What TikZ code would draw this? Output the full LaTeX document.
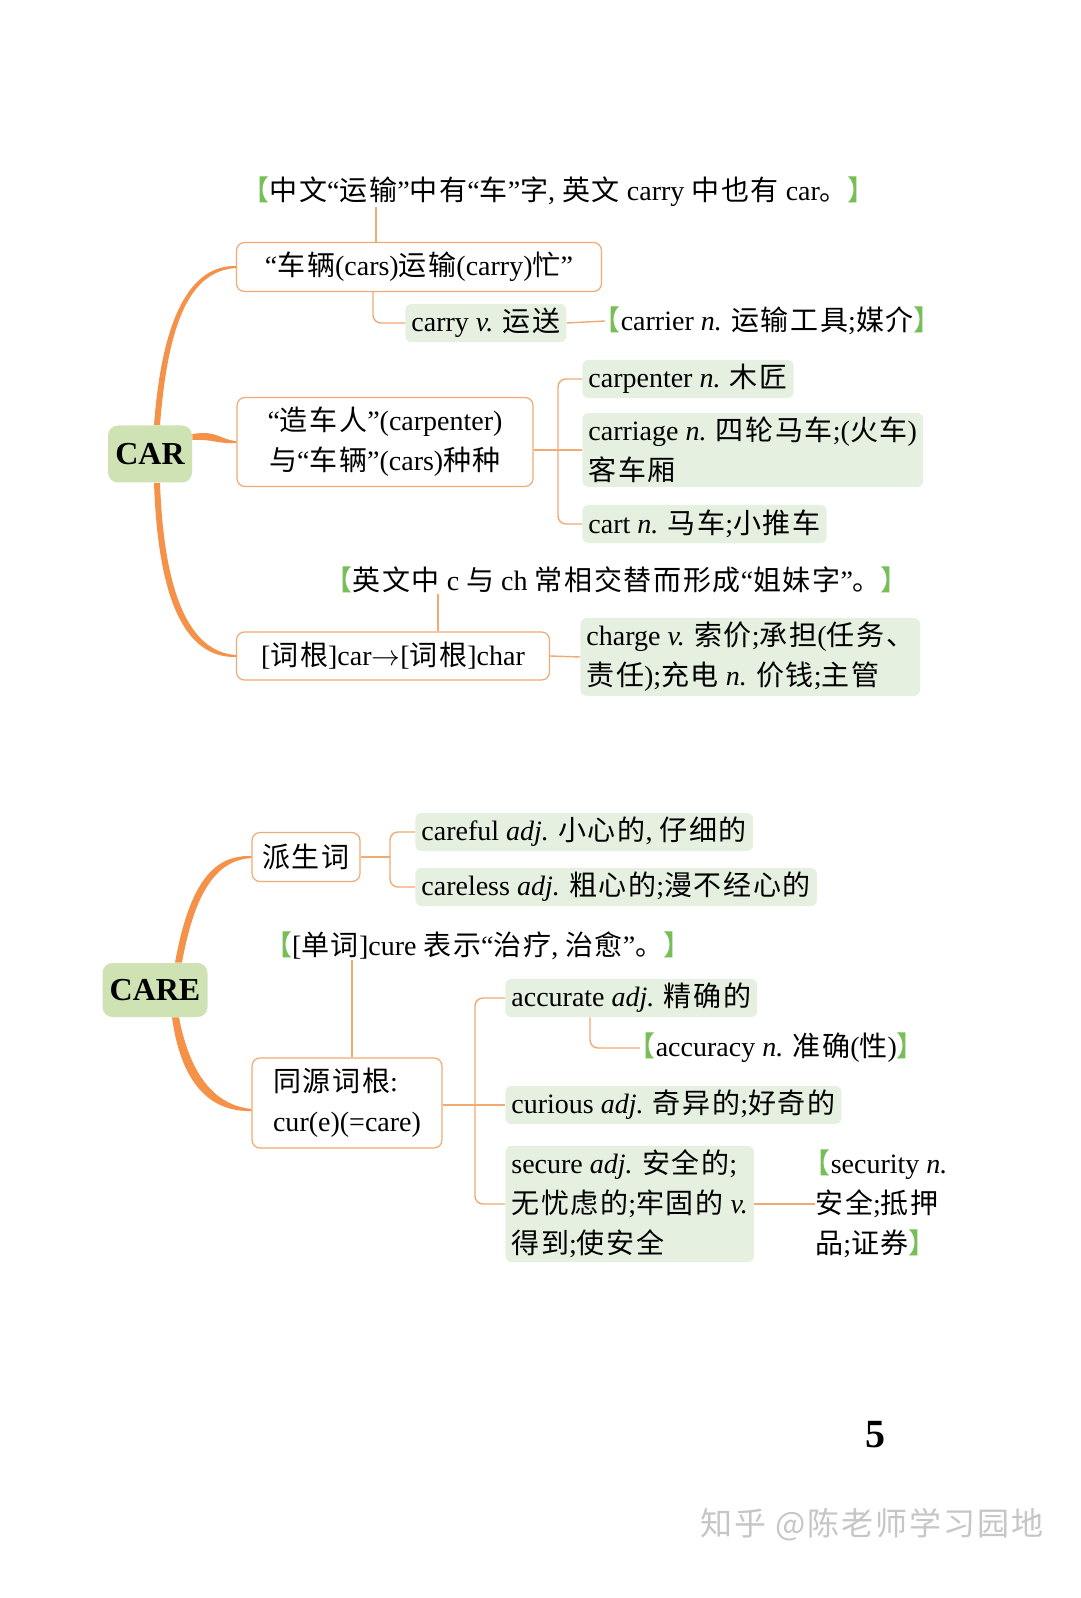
\documentclass[tikz,border=0pt]{standalone}
\usepackage{fontspec}
\setmainfont{Liberation Serif}
\newfontfamily\cjk[LetterSpace=6]{Noto Sans CJK SC}
\usetikzlibrary{positioning}

\definecolor{stemorange}{HTML}{F5924A}
\definecolor{twigorange}{HTML}{F2AA74}
\definecolor{rootgreen}{HTML}{CEE2B3}
\definecolor{wordgreen}{HTML}{E5F0E0}
\definecolor{brackgreen}{HTML}{76BE55}

\newcommand{\zh}[1]{{\cjk #1}}
\newcommand{\lbr}{{\cjk\color{brackgreen}\kern-0.45em【}}
\newcommand{\rbr}{{\cjk\color{brackgreen}】}}

\tikzset{
    root/.style={fill=rootgreen, rounded corners=5pt, font=\fontsize{16}{18}\selectfont\bfseries, inner sep=0pt},
    idea/.style={draw=twigorange, line width=0.6pt, rounded corners=4pt, fill=white, inner xsep=4pt, inner ysep=2pt},
    word/.style={fill=wordgreen, rounded corners=3pt, anchor=west, align=left, inner xsep=3pt, inner ysep=2pt, minimum height=19pt},
    note/.style={align=left, inner sep=0pt},
    stem/.style={fill=stemorange},
    twig/.style={draw=twigorange, line width=0.7pt, rounded corners=4pt}
}

\begin{document}
\begin{tikzpicture}[x=0.5pt, y=-0.5pt, font=\fontsize{14}{20}\selectfont]
    \fill[white] (0,0) rectangle (1080,1598);
    \useasboundingbox (0,0) rectangle (1080,1598);

    \node[root, minimum width=42pt, minimum height=28.5pt] (car) at (150,454) {CAR};
    \node[note] (carnote) at (565,192) {\lbr\zh{中文}“\zh{运输}”\zh{中有}“\zh{车}”\zh{字}, \zh{英文} carry \zh{中也有} car\zh{。}\rbr};
    \node[idea, minimum width=182.5pt, minimum height=24.5pt] (busy) at (419,267) {“\zh{车辆}(cars)\zh{运输}(carry)\zh{忙}”};
    \node[word] (carry) at (405,323) {carry \textit{v.} \zh{运送}};
    \node[note, anchor=west] (carrier) at (605,321) {\lbr carrier \textit{n.} \zh{运输工具};\zh{媒介}\rbr};
    \node[idea, align=center, minimum width=148pt, minimum height=44.5pt] (maker) at (385,442) {“\zh{造车人}”(carpenter)\\\zh{与}“\zh{车辆}”(cars)\zh{种种}};
    \node[word] (carpenter) at (582,379) {carpenter \textit{n.} \zh{木匠}};
    \node[word] (carriage) at (582,450) {carriage \textit{n.} \zh{四轮马车};(\zh{火车})\\\zh{客车厢}};
    \node[word] (cart) at (582,524) {cart \textit{n.} \zh{马车};\zh{小推车}};
    \node[note] (chnote) at (623,580) {\lbr\zh{英文中} c \zh{与} ch \zh{常相交替而形成}“\zh{姐妹字}”\zh{。}\rbr};
    \node[idea, minimum width=156.5pt, minimum height=24pt] (chroot) at (393,656) {[\zh{词根}]car$\rightarrow$[\zh{词根}]char};
    \node[word] (charge) at (580,657) {charge \textit{v.} \zh{索价};\zh{承担}(\zh{任务、}\\\zh{责任});\zh{充电} \textit{n.} \zh{价钱};\zh{主管}};

    \fill[stem] ([xshift=2pt]car.north) .. controls (162,318) and (190,265) .. ([yshift=0.5pt]busy.west)
        -- ([yshift=-0.5pt]busy.west) .. controls (190,271) and (168,322) .. ([xshift=5pt]car.north) -- cycle;
    \fill[stem] ([yshift=10pt]car.east) .. controls (218,430) and (220,440) .. ([yshift=0.5pt]maker.west)
        -- ([yshift=-0.5pt]maker.west) .. controls (216,444) and (214,439) .. ([yshift=7pt]car.east) -- cycle;
    \fill[stem] ([xshift=2pt]car.south) .. controls (158,600) and (185,658) .. ([yshift=-0.5pt]chroot.west)
        -- ([yshift=0.5pt]chroot.west) .. controls (190,652) and (164,595) .. ([xshift=5pt]car.south) -- cycle;

    \draw[twig] (carnote.south -| 376,0) -- (busy.north -| 376,0);
    \draw[twig] (busy.south -| 373,0) |- (carry.west);
    \draw[twig] (carry.east) -- (carrier.west);
    \coordinate (carfork) at (558,450);
    \draw[twig] (maker.east |- carriage.west) -- (carriage.west);
    \draw[twig] (carpenter.west) -| (carfork) |- (cart.west);
    \draw[twig] (chnote.south -| 438,0) -- (chroot.north -| 438,0);
    \draw[twig] (chroot.east) -- (charge.west);

    \node[root, minimum width=52.5pt, minimum height=27pt] (care) at (155,990) {CARE};
    \node[idea, minimum width=54pt, minimum height=24.5pt] (derived) at (306,857) {\zh{派生词}};
    \node[word] (careful) at (415,832) {careful \textit{adj.} \zh{小心的}, \zh{仔细的}};
    \node[word] (careless) at (415,887) {careless \textit{adj.} \zh{粗心的};\zh{漫不经心的}};
    \node[note] (curenote) at (484,946) {\lbr[\zh{单词}]cure \zh{表示}“\zh{治疗}, \zh{治愈}”\zh{。}\rbr};
    \node[idea, align=left, minimum width=95pt, minimum height=45pt] (cognate) at (347,1103) {\zh{同源词根}:\\cur(e)(=care)};
    \node[word] (accurate) at (505,998) {accurate \textit{adj.} \zh{精确的}};
    \node[note, anchor=west] (accuracy) at (640,1048) {\lbr accuracy \textit{n.} \zh{准确}(\zh{性})\rbr};
    \node[word] (curious) at (505,1105) {curious \textit{adj.} \zh{奇异的};\zh{好奇的}};
    \node[word] (secure) at (505,1204) {secure \textit{adj.} \zh{安全的};\\\zh{无忧虑的};\zh{牢固的} \textit{v.}\\\zh{得到};\zh{使安全}};
    \node[note, anchor=west] (security) at (815,1204) {\lbr security \textit{n.}\\\zh{安全};\zh{抵押}\\\zh{品};\zh{证券}\rbr};

    \fill[stem] ([xshift=10pt]care.north) .. controls (190,880) and (215,855) .. ([yshift=0.5pt]derived.west)
        -- ([yshift=-0.5pt]derived.west) .. controls (220,860) and (196,885) .. ([xshift=13.5pt]care.north) -- cycle;
    \fill[stem] ([xshift=8.5pt]care.south) .. controls (182,1090) and (215,1112) .. ([yshift=-4pt]cognate.west)
        -- ([yshift=-3pt]cognate.west) .. controls (222,1106) and (192,1085) .. ([xshift=12pt]care.south) -- cycle;

    \coordinate (derfork) at (390,857);
    \draw[twig] (derived.east) -- (derfork);
    \draw[twig] (careful.west) -| (derfork) |- (careless.west);
    \draw[twig] (curenote.south -| 352,0) -- (cognate.north -| 352,0);
    \coordinate (cogfork) at (475,1105);
    \draw[twig] (cognate.east |- curious.west) -- (curious.west);
    \draw[twig] (accurate.west) -| (cogfork) |- (secure.west);
    \draw[twig] (accurate.south -| 590,0) |- (accuracy.west);
    \draw[twig] (secure.east) -- (security.west);

    \node[font=\fontsize{20}{22}\selectfont\bfseries] (page) at (875,1435) {5};
    \node[font=\cjk\fontsize{16}{18}\selectfont, text=gray!45] (watermark) at (872,1525) {知乎 @陈老师学习园地};
\end{tikzpicture}
\end{document}
